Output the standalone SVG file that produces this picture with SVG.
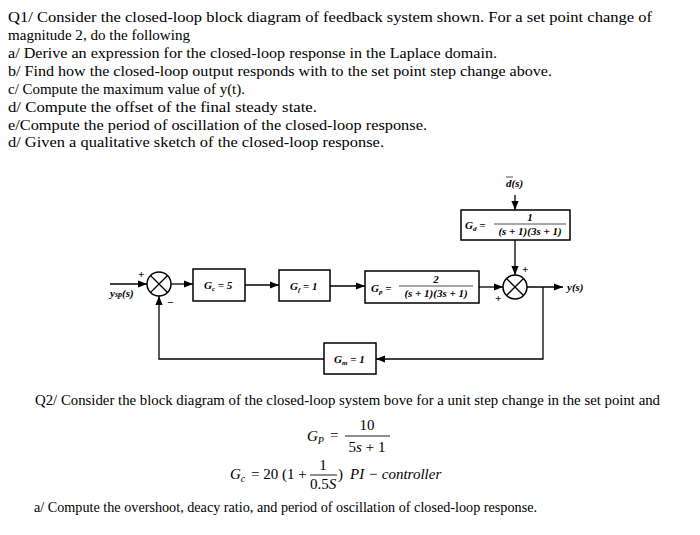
<svg xmlns="http://www.w3.org/2000/svg" width="700" height="535" viewBox="0 0 700 535">
<defs>
<marker id="ar" viewBox="0 0 10 10" refX="10" refY="5" markerWidth="7" markerHeight="7" orient="auto"><path d="M0,1 L10,5 L0,9 z" fill="#000"/></marker>
<style>
.t{font-family:"Liberation Serif",serif;font-size:15px;fill:#000}
.b{fill:#fff;stroke:#000;stroke-width:1.5}
.l{fill:none;stroke:#000;stroke-width:1.3}
.d{font-family:"Liberation Serif",serif;font-size:11px;font-style:italic;font-weight:bold;fill:#000}
.m{font-family:"Liberation Serif",serif;font-size:15px;fill:#000}
</style>
</defs>
<rect width="700" height="535" fill="#fff"/>
<g id="text1">
<text class="t" x="8" y="22" textLength="644" lengthAdjust="spacingAndGlyphs">Q1/ Consider the closed-loop block diagram of feedback system shown.  For a set point change of</text>
<text class="t" x="8" y="40" textLength="182" lengthAdjust="spacingAndGlyphs">magnitude 2, do the following</text>
<text class="t" x="8" y="58" textLength="489" lengthAdjust="spacingAndGlyphs">a/ Derive an expression for the closed-loop response in the Laplace domain.</text>
<text class="t" x="8" y="76" textLength="544" lengthAdjust="spacingAndGlyphs">b/ Find how the closed-loop output responds with to the set point step change above.</text>
<text class="t" x="8" y="94" textLength="237" lengthAdjust="spacingAndGlyphs">c/ Compute the maximum value of y(t).</text>
<text class="t" x="8" y="112" textLength="309" lengthAdjust="spacingAndGlyphs">d/ Compute the offset of the final steady state.</text>
<text class="t" x="8" y="130" textLength="419" lengthAdjust="spacingAndGlyphs">e/Compute the period of oscillation of the closed-loop response.</text>
<text class="t" x="8" y="147" textLength="376" lengthAdjust="spacingAndGlyphs">d/ Given a qualitative sketch of the closed-loop response.</text>
</g>
<g id="connectors">
<line class="l" x1="110" y1="284" x2="147" y2="284" marker-end="url(#ar)"/>
<line class="l" x1="171" y1="284" x2="193" y2="284" marker-end="url(#ar)"/>
<line class="l" x1="245" y1="285" x2="279" y2="285" marker-end="url(#ar)"/>
<line class="l" x1="330" y1="286" x2="365" y2="286" marker-end="url(#ar)"/>
<line class="l" x1="479" y1="287" x2="503" y2="287" marker-end="url(#ar)"/>
<line class="l" x1="515" y1="195" x2="515" y2="210" marker-end="url(#ar)"/>
<line class="l" x1="515" y1="240" x2="515" y2="275" marker-end="url(#ar)"/>
<line class="l" x1="527" y1="287" x2="563" y2="287" marker-end="url(#ar)"/>
<polyline class="l" points="543,287 543,359 376,359" marker-end="url(#ar)"/>
<polyline class="l" points="324,359 159,359 159,296" marker-end="url(#ar)"/>
</g>
<g id="sum1"><circle class="b" cx="159" cy="284" r="12"/><path class="l" d="M150.5,275.5 L167.5,292.5 M167.5,275.5 L150.5,292.5"/>
<text class="d" x="138" y="278">+</text><text class="d" x="167" y="306">−</text></g>
<g id="sum2"><circle class="b" cx="515" cy="287" r="12"/><path class="l" d="M506.5,278.5 L523.5,295.5 M523.5,278.5 L506.5,295.5"/>
<text class="d" x="522" y="273">+</text><text class="d" x="495" y="302">+</text></g>
<g id="ysp"><text class="d" x="110" y="297">y<tspan font-size="8">sp</tspan>(s)</text></g>
<g id="yout"><text class="d" x="567" y="291">y(s)</text></g>
<g id="dsig"><text class="d" x="506" y="187">d(s)</text><line x1="506" y1="177" x2="513" y2="177" stroke="#000" stroke-width="0.7"/></g>
<g id="Gc"><rect class="b" x="193" y="269" width="52" height="32"/><text class="d" x="204" y="289">G<tspan font-size="7" dy="2">c</tspan><tspan dy="-2"> = 5</tspan></text></g>
<g id="Gf"><rect class="b" x="279" y="270" width="51" height="31"/><text class="d" x="290" y="290">G<tspan font-size="7" dy="2">f</tspan><tspan dy="-2"> = 1</tspan></text></g>
<g id="Gp"><rect class="b" x="365" y="271" width="114" height="32"/><text class="d" x="371" y="292">G<tspan font-size="7" dy="2">p</tspan><tspan dy="-2"> =</tspan></text>
<text class="d" x="436" y="283" text-anchor="middle">2</text><line x1="399" y1="286" x2="473" y2="286" stroke="#000" stroke-width="0.7"/><text class="d" x="436" y="297" text-anchor="middle">(s + 1)(3s + 1)</text></g>
<g id="Gd"><rect class="b" x="461" y="210" width="109" height="30"/><text class="d" x="465" y="229">G<tspan font-size="7" dy="2">d</tspan><tspan dy="-2"> =</tspan></text>
<text class="d" x="530" y="221" text-anchor="middle">1</text><line x1="494" y1="224" x2="566" y2="224" stroke="#000" stroke-width="0.7"/><text class="d" x="530" y="235" text-anchor="middle">(s + 1)(3s + 1)</text></g>
<g id="Gm"><rect class="b" x="324" y="343" width="52" height="31"/><text class="d" x="334" y="363">G<tspan font-size="7" dy="2">m</tspan><tspan dy="-2"> = 1</tspan></text></g>
<g id="text2">
<text class="t" x="35" y="405" textLength="625" lengthAdjust="spacingAndGlyphs">Q2/ Consider the block diagram of the closed-loop system bove for a unit step change in the set point and</text>
<text class="m" x="307" y="441" font-style="italic">G<tspan font-size="10" dy="3">P</tspan></text>
<text class="m" x="330" y="440">=</text>
<text class="m" x="367" y="430" text-anchor="middle">10</text>
<line x1="345" y1="436" x2="390" y2="436" stroke="#000" stroke-width="0.9"/>
<text class="m" x="367" y="452" text-anchor="middle">5<tspan font-style="italic">s</tspan> + 1</text>
<text class="m" x="230" y="479" font-style="italic">G<tspan font-size="10" dy="3">c</tspan></text>
<text class="m" x="251" y="479">= 20 (1 +</text>
<text class="m" x="323" y="470" text-anchor="middle">1</text>
<line x1="310" y1="475" x2="337" y2="475" stroke="#000" stroke-width="0.9"/>
<text class="m" x="323" y="489" text-anchor="middle">0.5<tspan font-style="italic">S</tspan></text>
<text class="m" x="338" y="479">)</text>
<text class="m" x="350" y="479" font-style="italic">PI − controller</text>
<text class="t" x="34" y="512" textLength="503" lengthAdjust="spacingAndGlyphs">a/ Compute the overshoot, deacy ratio, and period of oscillation of closed-loop response.</text>
</g>
</svg>
